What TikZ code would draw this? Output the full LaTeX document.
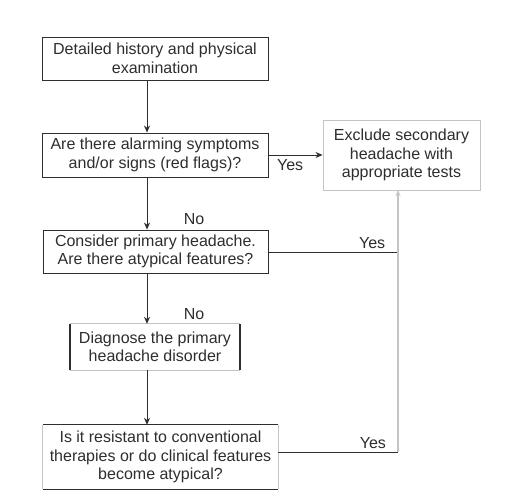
\documentclass[tikz,border=0pt]{standalone}
\usepackage{fontspec}
\setmainfont{Liberation Sans}
\usetikzlibrary{arrows.meta}
\definecolor{ink}{HTML}{2E2E2E}
\definecolor{faint}{HTML}{C4C4C4}
\tikzset{
  txt/.style={font=\fontsize{16}{18.5}\selectfont, text=ink, align=center},
  box/.style={txt, draw=ink, line width=0.9pt, inner sep=0pt},
  link/.style={draw=ink, line width=0.9pt},
  arr/.style={link, -{Stealth[length=7pt,width=6pt]}},
  lbl/.style={font=\fontsize{16}{18.5}\selectfont, text=ink}
}
\begin{document}
\begin{tikzpicture}[x=1pt,y=-1pt]
\useasboundingbox[fill=white] (0,0) rectangle (512,498);
% boxes
\node[box, minimum width=226pt, minimum height=43pt] (b1) at (155,58.5) {Detailed history and physical\\examination};
\node[box, minimum width=226pt, minimum height=44pt] (b2) at (155,155) {Are there alarming symptoms\\and/or signs (red flags)?};
\node[box, draw=faint, minimum width=157pt, minimum height=70pt] (b3) at (401.5,155) {Exclude secondary\\headache with\\appropriate tests};
\node[box, minimum width=225pt, minimum height=43pt] (b4) at (155.5,251.5) {Consider primary headache.\\Are there atypical features?};
\node[txt, minimum width=170pt, minimum height=46pt, inner sep=0pt] (b5) at (155,347) {Diagnose the primary\\headache disorder};
\draw[faint, line width=0.8pt] (b5.north west) -- (b5.north east) (b5.south west) -- (b5.south east);
\draw[ink, line width=1.6pt] (b5.north west) -- (b5.south west) (b5.north east) -- (b5.south east);
\node[txt, minimum width=235pt, minimum height=64pt, inner sep=0pt] (b6) at (160.5,457) {Is it resistant to conventional\\therapies or do clinical features\\become atypical?};
\draw[ink, line width=0.9pt] (b6.north west) -- (b6.north east) (b6.south west) -- (b6.south east);
\draw[faint, line width=0.8pt] (b6.north west) -- (b6.south west) (b6.north east) -- (b6.south east);
% coordinates
\coordinate (r4) at (398,252);
\coordinate (r6) at (398,452);
\coordinate (rtop) at (398,190);
% connectors
\draw[arr] (b1.south -| 147,0) -- (b2.north -| 147,0);
\draw[arr] (b2.east) -- node[lbl, below, pos=0.4, yshift=-1pt] {Yes} (b3.west);
\draw[arr] (b2.south -| 147,0) -- node[lbl, right, pos=0.8, xshift=33pt] {No} (b4.north -| 147,0);
\draw[arr] (b4.south -| 147,0) -- node[lbl, right, pos=0.8, xshift=33pt] {No} (b5.north -| 147,0);
\draw[arr] (b5.south -| 147,0) -- (b6.north -| 147,0);
\draw[link] (b4.east |- r4) -- node[lbl, above, pos=0.8, yshift=0pt] {Yes} (r4);
\draw[link] (b6.east |- r6) -- node[lbl, above, pos=0.79] {Yes} (r6);
\draw[faint, line width=1.2pt, -{Stealth[length=6pt,width=5pt]}] (r6) -- (r4) -- (rtop);
\end{tikzpicture}
\end{document}
